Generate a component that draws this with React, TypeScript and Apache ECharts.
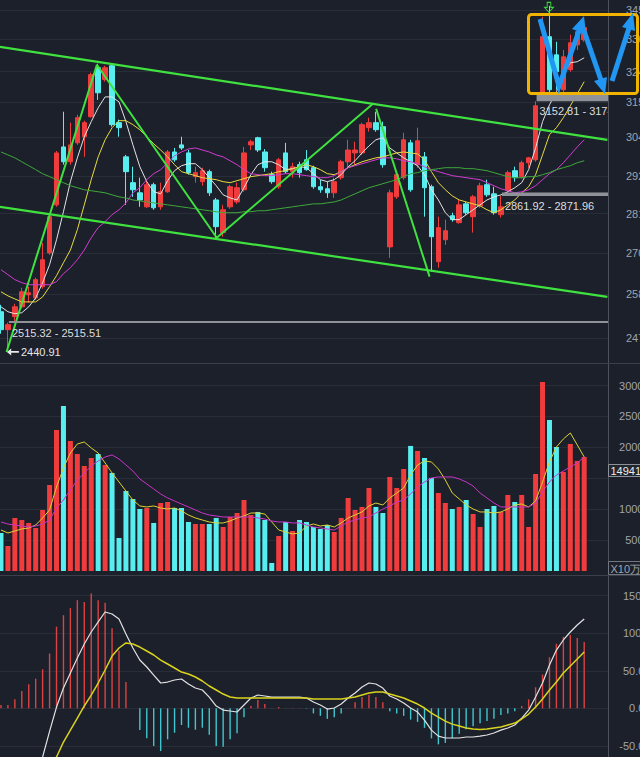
import React, { useEffect, useRef } from "react";
import * as echarts from "echarts";

// ---------- DATA ----------
// candles: [open, close, low, high]
const ohlc: number[][] = [
  [2543.3, 2497.1, 2486.9, 2561.2], [2497.1, 2510.0, 2440.91, 2515.32], [2530.4, 2556.1, 2515.51, 2563.8], [2556.1, 2595.6, 2550.9, 2606.3], [2587.5, 2592.9, 2566.3, 2609.1],
  [2579.4, 2627.9, 2574.0, 2633.3], [2609.1, 2681.8, 2603.7, 2728.6], [2700.6, 2802.3, 2695.2, 2808.0], [2836.3, 2990.7, 2830.6, 2996.6], [3009.0, 2963.8, 2954.9, 3119.0],
  [2963.8, 3015.3, 2954.9, 3084.4], [3021.6, 3100.1, 3015.3, 3109.6], [3040.5, 3084.4, 2978.7, 3090.7], [3103.3, 3239.3, 3100.1, 3245.9], [3262.4, 3179.9, 3156.7, 3275.6],
  [3222.8, 3262.4, 3216.2, 3269.0], [3269.0, 3078.2, 3071.9, 3275.6], [3084.4, 3068.7, 3040.5, 3093.9], [2978.7, 2934.0, 2836.3, 2984.7], [2901.2, 2880.3, 2859.5, 2948.9],
  [2871.4, 2850.5, 2830.6, 2916.1], [2830.6, 2895.2, 2827.8, 2910.1], [2895.2, 2827.8, 2822.1, 2901.2], [2830.6, 2874.4, 2822.1, 2901.2], [2874.4, 2993.6, 2871.4, 2999.6],
  [2993.6, 2969.8, 2963.8, 3005.9], [3015.3, 3005.9, 2999.6, 3040.5], [2990.7, 2931.0, 2925.1, 2999.6], [2919.1, 2931.0, 2901.2, 2948.9], [2904.2, 2937.0, 2892.2, 2945.9],
  [2934.0, 2871.4, 2862.4, 2940.0], [2850.5, 2773.9, 2737.1, 2856.5], [2756.9, 2822.1, 2745.6, 2836.3], [2830.6, 2889.3, 2825.0, 2895.2], [2844.8, 2886.3, 2839.2, 2901.2],
  [2880.3, 2990.7, 2874.4, 3009.0], [3015.3, 3024.8, 2999.6, 3031.0], [3037.3, 2999.6, 2993.6, 3040.5], [2993.6, 2945.9, 2934.0, 3002.6], [2925.1, 2904.2, 2898.2, 2934.0],
  [2889.3, 2969.8, 2883.3, 2975.7], [2990.7, 2934.0, 2928.0, 3021.6], [2934.0, 2948.9, 2916.1, 2960.8], [2954.9, 2931.0, 2916.1, 2963.8], [2969.8, 2940.0, 2937.0, 2999.6],
  [2945.9, 2889.3, 2883.3, 2951.9], [2889.3, 2880.3, 2871.4, 2910.1], [2883.3, 2871.4, 2856.5, 2904.2], [2871.4, 2904.2, 2856.5, 2916.1], [2916.1, 2963.8, 2910.1, 2969.8],
  [2963.8, 2999.6, 2948.9, 3031.0], [2990.7, 2999.6, 2954.9, 3024.8], [2990.7, 3078.2, 2984.7, 3084.4], [3068.7, 3084.4, 3056.2, 3100.1], [3084.4, 3062.4, 3056.2, 3119.0],
  [3071.9, 2954.9, 2945.9, 3087.6], [2717.2, 2871.4, 2687.1, 2880.3], [2859.5, 2925.1, 2853.5, 2931.0], [2916.1, 3031.0, 2910.1, 3053.0], [3021.6, 2880.3, 2874.4, 3031.0],
  [2954.9, 3027.9, 2945.9, 3068.7], [2978.7, 2886.3, 2802.3, 2993.6], [2889.3, 2745.6, 2649.4, 2895.2], [2676.4, 2771.1, 2660.2, 2802.3], [2737.1, 2762.6, 2722.9, 2793.8],
  [2805.1, 2793.8, 2788.1, 2813.6], [2785.3, 2836.3, 2782.4, 2850.5], [2839.2, 2813.6, 2808.0, 2844.8], [2802.3, 2859.5, 2756.9, 2865.4], [2833.5, 2892.2, 2827.8, 2901.2],
  [2895.2, 2865.4, 2859.5, 2910.1], [2868.4, 2813.6, 2808.0, 2889.3], [2808.0, 2830.6, 2799.5, 2861.92], [2878.0, 2931.0, 2871.96, 2937.0], [2937.0, 2916.1, 2904.2, 2948.9],
  [2919.1, 2960.8, 2913.1, 2966.8], [2960.8, 2975.7, 2945.9, 2978.7], [2969.8, 3137.9, 2963.8, 3152.81], [3179.9, 3367.1, 3174.53, 3436.6], [3367.1, 3189.8, 3178.0, 3474.9],
  [3305.4, 3249.2, 3189.8, 3349.7], [3189.8, 3298.8, 3180.0, 3321.9], [3255.8, 3346.3, 3249.2, 3374.1], [3339.3, 3384.5, 3321.9, 3398.4], [3356.7, 3398.4, 3349.7, 3415.8],
];

const ma5 = [2556.1, 2543.3, 2538.1, 2540.7, 2556.1, 2579.4, 2619.8, 2668.3, 2737.1, 2816.5,
  2904.2, 2975.7, 3040.4, 3087.6, 3131.6, 3166.6, 3166.6, 3150.4, 3087.6, 3015.3,
  2948.9, 2904.2, 2874.4, 2868.4, 2907.2, 2937.0, 2951.9, 2957.9, 2957.9, 2940.0,
  2916.1, 2892.2, 2865.4, 2856.5, 2850.5, 2886.3, 2925.1, 2954.9, 2963.8, 2963.8,
  2954.9, 2940.0, 2943.0, 2948.9, 2945.9, 2928.0, 2910.1, 2904.2, 2910.1, 2925.1,
  2948.9, 2966.8, 2990.7, 3012.2, 3031.0, 3037.3, 3005.9, 2990.7, 2975.7, 2963.8,
  2951.9, 2925.1, 2880.3, 2850.5, 2813.6, 2793.8, 2793.8, 2808.0, 2822.1, 2836.3,
  2850.5, 2859.5, 2865.4, 2874.4, 2886.3, 2901.2, 2940.0, 3005.9, 3087.6, 3141.0,
  3183.1, 3239.3, 3279.0, 3282.3, 3295.5];
const ma10 = [2595.6, 2584.8, 2576.7, 2568.9, 2568.9, 2568.9, 2582.1, 2609.1, 2638.7, 2673.7,
  2708.7, 2765.4, 2836.3, 2910.1, 2978.7, 3031.0, 3068.7, 3090.7, 3090.7, 3078.2,
  3062.4, 3040.5, 3018.5, 2999.6, 2978.7, 2954.9, 2934.0, 2928.0, 2922.1, 2916.1,
  2913.1, 2910.1, 2904.2, 2901.2, 2907.2, 2913.1, 2919.1, 2922.1, 2925.1, 2928.0,
  2934.0, 2937.0, 2943.0, 2948.9, 2954.9, 2948.9, 2940.0, 2928.0, 2925.1, 2934.0,
  2945.9, 2954.9, 2963.8, 2969.8, 2975.7, 2978.7, 2984.7, 2990.7, 2993.6, 2990.7,
  2987.7, 2969.8, 2934.0, 2901.2, 2880.3, 2862.4, 2850.5, 2844.8, 2839.2, 2833.5,
  2822.1, 2813.6, 2822.1, 2836.3, 2850.5, 2871.4, 2889.3, 2925.1, 2984.7, 3046.7,
  3068.7, 3100.1, 3137.9, 3176.5, 3216.2];
const ma20 = [2654.8, 2641.3, 2627.9, 2619.8, 2614.4, 2614.4, 2614.4, 2614.4, 2622.5, 2644.0,
  2660.2, 2681.8, 2708.7, 2742.7, 2771.1, 2788.1, 2808.0, 2822.1, 2842.0, 2871.4,
  2886.3, 2910.1, 2928.0, 2940.0, 2960.8, 2981.7, 2993.6, 3002.7, 3005.9, 2999.6,
  2993.6, 2984.7, 2978.7, 2966.8, 2954.9, 2940.0, 2928.0, 2925.1, 2922.1, 2922.1,
  2925.1, 2928.0, 2928.0, 2925.1, 2922.1, 2919.1, 2916.1, 2916.1, 2922.1, 2934.0,
  2945.9, 2951.9, 2957.9, 2963.8, 2969.8, 2975.7, 2975.7, 2972.7, 2966.8, 2963.8,
  2957.9, 2948.9, 2940.0, 2934.0, 2928.0, 2922.1, 2919.1, 2916.1, 2913.1, 2910.1,
  2901.2, 2892.2, 2883.3, 2877.4, 2871.4, 2874.4, 2880.3, 2892.2, 2910.1, 2928.0,
  2940.0, 2960.8, 2984.7, 3009.0, 3031.0];
const ma60 = [2993.6, 2984.7, 2975.7, 2963.8, 2951.9, 2940.0, 2928.0, 2919.1, 2910.1, 2901.2,
  2892.2, 2886.3, 2880.3, 2877.4, 2874.4, 2871.4, 2865.4, 2859.5, 2856.5, 2850.5,
  2847.7, 2844.8, 2842.0, 2839.2, 2836.3, 2833.5, 2830.6, 2827.8, 2825.0, 2822.1,
  2819.3, 2816.5, 2813.6, 2813.6, 2813.6, 2816.5, 2816.5, 2819.3, 2819.3, 2822.1,
  2825.0, 2827.8, 2830.6, 2833.5, 2836.3, 2839.2, 2839.2, 2842.0, 2844.8, 2850.5,
  2859.5, 2868.4, 2877.4, 2886.3, 2892.2, 2898.2, 2904.2, 2910.1, 2919.1, 2928.0,
  2931.0, 2937.0, 2940.0, 2943.0, 2945.9, 2945.9, 2945.9, 2943.0, 2943.0, 2940.0,
  2937.0, 2931.0, 2925.1, 2919.1, 2916.1, 2916.1, 2919.1, 2919.1, 2925.1, 2931.0,
  2940.0, 2945.9, 2951.9, 2960.8, 2966.8];

// volume (X10万)
const volumes = [615, 405, 858, 825, 777, 696, 987, 1391, 2281, 2670,
  2103, 1893, 1699, 1828, 1893, 1715, 1586, 534, 1294, 1165,
  1003, 1019, 777, 1100, 1116, 1019, 1019, 793, 760, 760,
  760, 858, 712, 874, 938, 1149, 906, 955, 825, 129,
  566, 793, 647, 825, 793, 712, 680, 744, 631, 858,
  1181, 987, 1036, 1343, 1036, 938, 1521, 1343, 1650, 2023,
  1942, 1828, 1505, 1262, 1100, 1003, 1036, 1149, 922, 712,
  1003, 1052, 955, 1230, 1116, 1230, 712, 1569, 3058, 2443,
  2006, 1602, 2055, 1780, 1845];
const volMa5 = [663, 615, 647, 680, 696, 744, 858, 987, 1359, 1667,
  1909, 2055, 2087, 1990, 1909, 1747, 1586, 1440, 1294, 1149,
  1052, 1036, 1052, 1019, 1003, 1019, 971, 906, 858, 825,
  793, 777, 777, 809, 858, 890, 938, 938, 922, 793,
  663, 631, 599, 615, 728, 760, 728, 744, 712, 777,
  858, 906, 955, 1052, 1100, 1068, 1181, 1262, 1343, 1553,
  1715, 1780, 1764, 1650, 1472, 1262, 1165, 1068, 1003, 955,
  955, 938, 955, 1003, 1068, 1084, 1036, 1133, 1440, 1764,
  2006, 2136, 2233, 2039, 1845];
const volMa10 = [793, 760, 744, 728, 712, 728, 760, 825, 1019, 1149,
  1311, 1472, 1586, 1699, 1780, 1845, 1877, 1812, 1715, 1618,
  1489, 1408, 1327, 1246, 1181, 1133, 1084, 1036, 987, 938,
  906, 890, 874, 874, 874, 874, 874, 858, 841, 809,
  793, 793, 777, 777, 744, 712, 696, 680, 663, 728,
  793, 825, 858, 874, 938, 1003, 1052, 1116, 1149, 1246,
  1359, 1440, 1505, 1521, 1521, 1521, 1489, 1440, 1375, 1262,
  1181, 1100, 1036, 1036, 1036, 1036, 1036, 1100, 1278, 1440,
  1553, 1618, 1683, 1747, 1845];

// MACD
const dif = [-120, -115, -108, -100, -90, -78, -64.8, -30.6, 1.7, 27,
  47, 67, 85.6, 101.6, 115, 128.2, 125.6, 119, 99, 80.3,
  64.3, 55, 44.3, 33.7, 35, 37.7, 39, 32.4, 27, 24.4,
  15, 3, -2.3, -3.6, -4.9, 4.4, 13.7, 17.7, 16.4, 15,
  15, 15, 15, 15, 13.7, 8.4, 4.4, -1, 0.4, 5.7,
  13.7, 20.4, 28.4, 33.7, 32.4, 27, 16.4, 12.4, 7, 0.4,
  -5, -15.6, -29, -37, -39.5, -39.5, -39.5, -38.2, -38.2, -37,
  -35.5, -32.9, -29, -26.2, -22.2, -13, -2.3, 15, 33.7, 57.7,
  77.6, 91, 101.6, 110.9, 118.9];
const dea = [-125, -120, -115, -110, -104, -97, -88, -76,
  -64.8, -44.9, -28.9, -12.9, 3.1, 17.7, 33.7, 51, 69.6, 80.3, 87, 85.6,
  81.6, 76.3, 71, 64.3, 59, 53.7, 48.3, 45.7, 41.7, 36.4,
  29.7, 24.4, 19, 15, 13.7, 13.7, 13.7, 13.7, 13.7, 13.7,
  13.7, 13.7, 13.7, 13.7, 13.7, 12.4, 12.4, 12.4, 12.4, 12.4,
  13.7, 15, 17.7, 20.4, 21.7, 21.7, 19, 16.4, 13.7, 9.7,
  5.7, 0.4, -6.3, -11.6, -17, -21, -23.6, -26.2, -27.6, -28.2,
  -27.6, -26.2, -24.9, -22.2, -19.6, -14.2, -7.6, 1.7, 12.4, 24.4,
  35, 47, 56.3, 65.6, 75];
const macdHist = [4.4, 4.4, 12, 23, 32, 39.4, 52, 73, 108.7, 124,
  133.5, 144, 141.5, 153, 144, 140.6, 106.5, 76.7, 35, 0,
  -28.9, -40, -50.2, -56.9, -41.3, -32.5, -22.2, -25.8, -28.5, -25.8,
  -35.1, -50.2, -51.1, -41.3, -33.3, -12, 3.1, 11, 5.7, 0.5,
  1.7, 0.3, 0.4, 0.3, -0.5, -6.7, -10, -14, -12, -7,
  0.5, 8, 15, 18, 15, 8, -4, -7, -10, -15,
  -18, -26, -40, -48, -46, -40, -34, -28, -24, -20,
  -17, -14, -9, -7, -4, 3, 12, 28, 45, 68,
  86, 95.2, 97.6, 93.6, 88.3];

// tick labels (the 1500 label sits behind the last-volume box in the reference)
const priceTicks = [3459, 3360, 3249, 3150, 3040, 2920, 2811, 2700, 2589, 2475];
const volTicks = [500, 1000, 1500, 2000, 2500, 3000];
const volLabelTicks = [500, 1000, 2000, 2500, 3000];
const macdTicks = [-50, 0, 50, 100, 150];

// hand-drawn trend lines: [slot index, price]
const upperChannel = [[-0.14, 3332.4], [87.34, 3031.0]];
const lowerChannel = [[-0.14, 2830.6], [87.34, 2582.1]];
const zigzagA = [[0.8, 2441.0], [13.82, 3272.3], [31.08, 2742.7], [53.53, 3144.1]];
const zigzagB = [[54.03, 3128.4], [61.73, 2636.0]];

// price gaps: [start candle, low, high]
const gaps = [[1, 2515.32, 2515.51], [72, 2861.92, 2871.96], [77, 3152.81, 3174.53]];
const lowMark = { index: 1, value: 2440.91 };
const signalIndex = 79;
const lastVolLabel = "14941";
const volUnit = "X10万";

// ---------- STYLE ----------
const BG = "#1c202b";
const RED = "#f03c3c";
const CYAN = "#58eef0";
const GREEN = "#3fe23f";
const AXIS_TXT = "#a0a4ac";
const GRID_LINE = "#363b47";
const SLOTS = 88;
const PRICE_MIN = 2416.1;
const PRICE_MAX = 3495.7;
const FONT = "Arial, 'Liberation Sans', sans-serif";

const slotNames = Array.from({ length: SLOTS }, (_, i) => String(i));
const ln = (v: number) => Math.log(v);

function buildOption(): any {
  const gridBase = { left: -2.5, width: 611, outerBoundsMode: "none", containLabel: false };
  const catAxis = (g: number) => ({ type: "category", gridIndex: g, data: slotNames, show: false, boundaryGap: true });
  const dotted = { show: true, lineStyle: { color: GRID_LINE, type: "dotted", width: 1 } };
  const lineS = (name: string, data: any[], color: string, xi: number, yi: number, width = 1, z = 3) => ({
    name, type: "line", xAxisIndex: xi, yAxisIndex: yi, data, symbol: "none", showSymbol: false,
    lineStyle: { color, width }, itemStyle: { color }, z, silent: true,
  });
  const trend = (data: number[][], w = 2) => ({
    type: "line", xAxisIndex: 3, yAxisIndex: 0, data: data.map((p) => [p[0], ln(p[1])]),
    symbol: "none", lineStyle: { color: GREEN, width: w }, z: 6, silent: true,
  });

  return {
    animation: false,
    backgroundColor: BG,
    grid: [
      { ...gridBase, top: 0, height: 362 },
      { ...gridBase, top: 367, height: 204 },
      { ...gridBase, top: 578, height: 179 },
    ],
    xAxis: [catAxis(0), catAxis(1), catAxis(2), { type: "value", gridIndex: 0, min: -0.5, max: SLOTS - 0.5, show: false }],
    yAxis: [
      {
        type: "value", gridIndex: 0, position: "right", min: ln(PRICE_MIN), max: ln(PRICE_MAX),
        axisLine: { show: false },
        axisTick: { show: false, customValues: priceTicks.map(ln) },
        axisLabel: { customValues: priceTicks.map(ln), formatter: (v: number) => String(Math.round(Math.exp(v))), color: AXIS_TXT, fontSize: 11, fontFamily: FONT, margin: 17.5 },
        splitLine: dotted,
      },
      {
        type: "value", gridIndex: 1, position: "right", min: 0, max: 3300,
        axisLine: { show: false },
        axisTick: { show: false, customValues: volTicks },
        axisLabel: { customValues: volLabelTicks, formatter: (v: number) => String(v), color: AXIS_TXT, fontSize: 11, fontFamily: FONT, margin: 35, align: "right" },
        splitLine: dotted,
      },
      {
        type: "value", gridIndex: 2, position: "right", min: -64.8, max: 173.5,
        axisLine: { show: false },
        axisTick: { show: false, customValues: macdTicks },
        axisLabel: {
          customValues: macdTicks,
          formatter: (v: number) => (v === 0 ? "0.00" : Math.abs(v) >= 100 ? v.toFixed(1) : v.toFixed(2)),
          color: AXIS_TXT, fontSize: 11, fontFamily: FONT, margin: 42, align: "right",
        },
        splitLine: dotted,
      },
    ],
    series: [
      {
        type: "candlestick", xAxisIndex: 0, yAxisIndex: 0, barWidth: 5, z: 2,
        data: ohlc.map((r) => r.map(ln)),
        itemStyle: { color: RED, color0: CYAN, borderColor: RED, borderColor0: CYAN, borderWidth: 1 },
        markPoint: {
          silent: true,
          data: [
            {
              coord: [lowMark.index, ln(lowMark.value)],
              symbol: "path://M0,4 L5,0 L5,3 L14,3 L14,5 L5,5 L5,8 Z",
              symbolSize: [12, 7], symbolOffset: [5, 0],
              itemStyle: { color: "#e6e6e6" },
              label: { show: true, position: "right", distance: 2, formatter: lowMark.value.toFixed(2), color: "#e6e6e6", fontSize: 11, fontFamily: FONT },
            },
            {
              coord: [signalIndex, ln(ohlc[signalIndex][3])],
              symbol: "path://M3,0 L7,0 L7,5 L10,5 L5,10 L0,5 L3,5 Z",
              symbolSize: [9, 10], symbolOffset: [-0.5, 1.5],
              itemStyle: { color: "rgba(0,0,0,0)", borderColor: "#3fd23f", borderWidth: 1 },
              label: { show: false },
            },
          ],
        },
      },
      lineS("MA5", ma5.map(ln), "#e4e4e4", 0, 0),
      lineS("MA10", ma10.map(ln), "#e8dc3c", 0, 0),
      lineS("MA20", ma20.map(ln), "#d23cd2", 0, 0),
      lineS("MA60", ma60.map(ln), "#3fa83a", 0, 0),
      trend(upperChannel, 2.2),
      trend(lowerChannel, 2.2),
      trend(zigzagA, 2),
      trend(zigzagB, 2),
      {
        type: "custom", xAxisIndex: 0, yAxisIndex: 0, clip: true, z: 7, silent: true,
        data: gaps.map((g) => [g[0], ln(g[1]), ln(g[2])]),
        renderItem: (params: any, api: any) => {
          const idx = api.value(0);
          const pLo = api.coord([idx, api.value(1)]);
          const pHi = api.coord([idx, api.value(2)]);
          const cs = params.coordSys;
          const x0 = pLo[0] + 1;
          const right = cs.x + cs.width;
          let top = pHi[1];
          let h = pLo[1] - pHi[1];
          if (h < 2) { top = (pHi[1] + pLo[1]) / 2 - 1.5; h = 2; }
          const g = gaps[params.dataIndex];
          return {
            type: "group",
            children: [
              { type: "rect", shape: { x: x0, y: top, width: right - x0, height: h }, style: { fill: "#8f9399" } },
              {
                type: "text",
                style: { text: `${g[1].toFixed(2)} - ${g[2].toFixed(2)}`, x: x0 + 3, y: top + h + 4, fill: "#dedede", font: `11px ${FONT}`, verticalAlign: "top", align: "left" },
              },
            ],
          };
        },
      },
      {
        type: "bar", xAxisIndex: 1, yAxisIndex: 1, barWidth: 5, z: 2, silent: true,
        data: volumes.map((v, i) => ({ value: v, itemStyle: { color: ohlc[i][1] >= ohlc[i][0] ? RED : CYAN } })),
      },
      lineS("VMA5", volMa5, "#dcd232", 1, 1),
      lineS("VMA10", volMa10, "#c935c9", 1, 1),
      {
        type: "bar", xAxisIndex: 2, yAxisIndex: 2, barWidth: 1.4, z: 2, silent: true,
        data: macdHist.map((v) => ({ value: v, itemStyle: { color: v >= 0 ? "#dc4242" : "#3fc6cf" } })),
      },
      lineS("DIF", dif, "#e2e2e2", 2, 2, 1.2),
      lineS("DEA", dea, "#d9d21e", 2, 2, 1.5),
    ],
    graphic: [
      { type: "line", shape: { x1: 608.5, y1: 0, x2: 608.5, y2: 757 }, style: { stroke: "#4c515b", lineWidth: 1 }, z: 50, silent: true },
      { type: "line", shape: { x1: 0, y1: 363.5, x2: 640, y2: 363.5 }, style: { stroke: "#3a3f4a", lineWidth: 1 }, z: 50, silent: true },
      { type: "line", shape: { x1: 0, y1: 575.5, x2: 640, y2: 575.5 }, style: { stroke: "#3a3f4a", lineWidth: 1 }, z: 50, silent: true },
      { type: "rect", shape: { x: 608.5, y: 464.5, width: 40, height: 12 }, style: { fill: "#22262f", stroke: "#8d919a", lineWidth: 1 }, z: 60, silent: true },
      { type: "text", style: { text: lastVolLabel, x: 610.5, y: 471, fill: "#ececec", font: `11px ${FONT}`, verticalAlign: "middle" }, z: 61, silent: true },
      { type: "rect", shape: { x: 608.5, y: 561.5, width: 40, height: 13 }, style: { fill: BG, stroke: "#70757f", lineWidth: 1 }, z: 60, silent: true },
      { type: "text", style: { text: volUnit, x: 610.5, y: 568.5, fill: AXIS_TXT, font: `11px ${FONT}`, verticalAlign: "middle" }, z: 61, silent: true },
      // annotation: yellow frame and blue arrows
      { type: "rect", shape: { x: 528.5, y: 14.5, width: 109, height: 79, r: 3 }, style: { fill: "none", stroke: "#f0b400", lineWidth: 3 }, z: 70, silent: true },
      { type: "polyline", shape: { points: [[540, 19], [559, 86], [579, 31]] }, style: { stroke: "#2196f3", lineWidth: 5, fill: "none" }, z: 71, silent: true },
      { type: "polygon", shape: { points: [[584, 16], [586, 34], [572, 29]] }, style: { fill: "#2196f3" }, z: 71, silent: true },
      { type: "polyline", shape: { points: [[583, 28], [601, 80]] }, style: { stroke: "#2196f3", lineWidth: 5, fill: "none" }, z: 71, silent: true },
      { type: "polygon", shape: { points: [[605, 94], [607, 77], [594, 81]] }, style: { fill: "#2196f3" }, z: 71, silent: true },
      { type: "polyline", shape: { points: [[612, 81], [629, 28]] }, style: { stroke: "#2196f3", lineWidth: 5, fill: "none" }, z: 71, silent: true },
      { type: "polygon", shape: { points: [[633, 13], [635, 31], [622, 27]] }, style: { fill: "#2196f3" }, z: 71, silent: true },
    ],
  };
}

export default function App() {
  const ref = useRef<HTMLDivElement>(null);
  useEffect(() => {
    if (!ref.current) return;
    const chart = echarts.init(ref.current, undefined, { renderer: "svg" });
    chart.setOption(buildOption());
    return () => chart.dispose();
  }, []);
  return <div ref={ref} style={{ position: "absolute", left: 0, top: 0, width: 640, height: 757, background: BG }} />;
}
